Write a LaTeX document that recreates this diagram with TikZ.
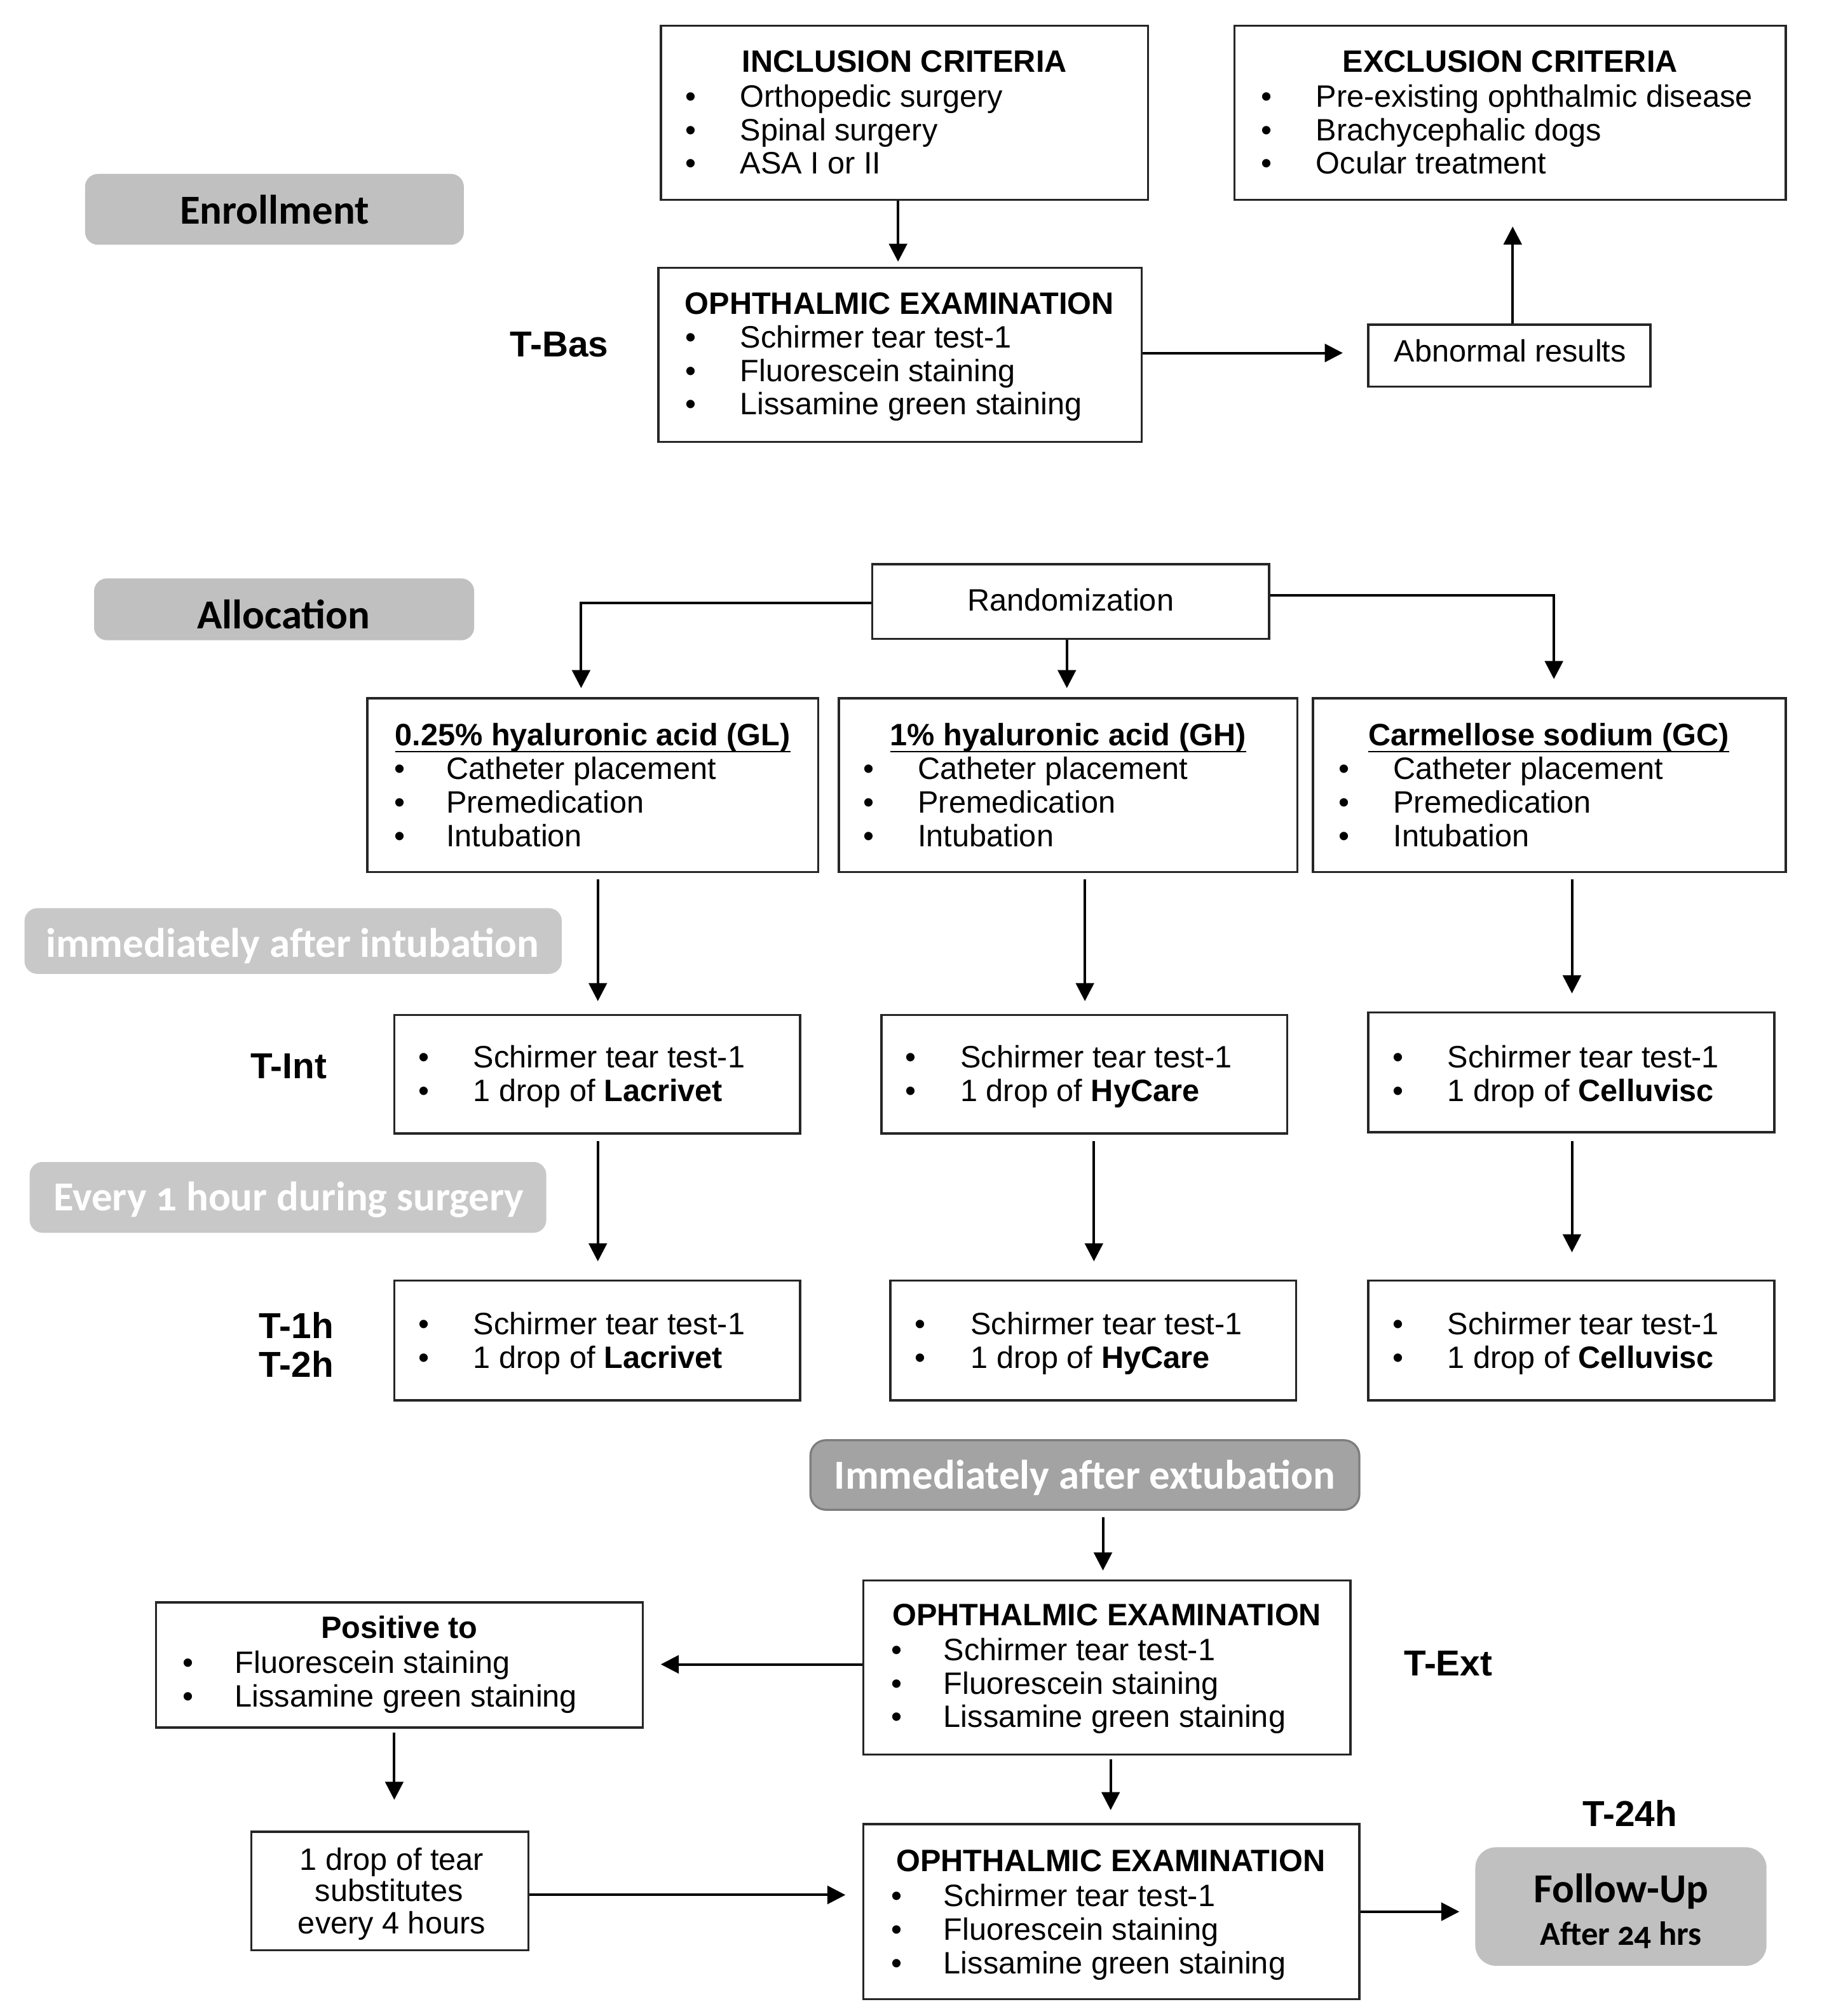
\documentclass[tikz,border=0pt]{standalone}
\usepackage{fontspec}
\setmainfont{Liberation Sans}
\newfontfamily\calib[Numbers=OldStyle]{Carlito}
\usetikzlibrary{arrows.meta,fit}
\definecolor{gEnr}{RGB}{192,192,192}
\definecolor{gLight}{RGB}{200,200,200}
\definecolor{gDark}{RGB}{163,163,163}
\definecolor{gDarkB}{RGB}{125,125,125}
\newcommand{\bitem}[5]{%
  \node[txt,anchor=base] (#1b) at (#2,#4) {\textbullet};
  \node[txt,anchor=base west] (#1) at (#3,#4) {#5};}
\newcommand{\ulbar}[1]{\setbox0\hbox{#1}\rlap{\rule[-2.6pt]{\wd0}{0.7pt}}\box0}
\begin{document}
\begin{tikzpicture}[x=0.5pt,y=-0.5pt,
  box/.style={draw=black!85, line width=0.85pt, inner sep=0pt},
  gboxA/.style={fill=gEnr, draw=none, rounded corners=5pt, inner sep=0pt},
  gboxL/.style={fill=gLight, draw=none, rounded corners=5pt, inner sep=0pt},
  gboxD/.style={fill=gDark, draw=gDarkB, line width=0.8pt, rounded corners=6pt, inner sep=0pt},
  txt/.style={inner sep=0pt, font=\fontsize{12}{14}\selectfont},
  ttl/.style={inner sep=0pt, font=\fontsize{12}{14}\selectfont\bfseries},
  lbl/.style={inner sep=0pt, font=\fontsize{14}{16}\selectfont\bfseries},
  gtxt/.style={inner sep=0pt, font=\calib\bfseries\fontsize{16}{18}\selectfont},
  arr/.style={line width=1pt, -{Triangle[length=7pt,width=7pt]}}]
\fill[white] (0,0) rectangle (1414,1565);
\useasboundingbox (0,0) rectangle (1414,1565);

% ---- gray phase boxes
\node[gboxA, fit={(66,135) (360,190)}] (enr) {};
\node[gtxt, anchor=base] (enrT) at (213,174) {Enrollment};
\node[gboxA, fit={(73,449) (368,497)}] (alc) {};
\node[gtxt, anchor=base] (alcT) at (220,488) {Allocation};
\node[gboxL, fit={(19,705) (436,756)}] (intg) {};
\node[gtxt, anchor=base, text=white] (intgT) at (227,743) {immediately after intubation};
\node[gboxL, fit={(23,902) (424,957)}] (hrg) {};
\node[gtxt, anchor=base, text=white] (hrgT) at (224,940) {Every 1 hour during surgery};
\node[gboxD, fit={(629,1118) (1055,1172)}] (extg) {};
\node[gtxt, anchor=base, text=white] (extgT) at (842,1156) {Immediately after extubation};
\node[gboxA, rounded corners=8pt, fit={(1145,1434) (1371,1526)}] (fol) {};
\node[gtxt, anchor=base] (folT) at (1258,1477) {Follow-Up};
\node[gtxt, anchor=base, font=\calib\bfseries\fontsize{13}{15}\selectfont] (folT2) at (1258,1510) {After 24 hrs};

% ---- boxes
\node[box, fit={(513,20) (891,155)}] (incl) {};
\node[box, fit={(958,20) (1386,155)}] (excl) {};
\node[box, fit={(511,208) (886,343)}] (oph1) {};
\node[box, fit={(1062,252) (1281,300)}] (abn) {};
\node[box, fit={(677,438) (985,496)}] (rand) {};
\node[box, fit={(285,542) (635,677)}] (gl) {};
\node[box, fit={(651,542) (1007,677)}] (gh) {};
\node[box, fit={(1019,542) (1386,677)}] (gc) {};
\node[box, fit={(306,788) (621,880)}] (intl) {};
\node[box, fit={(684,788) (999,880)}] (inth) {};
\node[box, fit={(1062,786) (1377,879)}] (intc) {};
\node[box, fit={(306,994) (621,1087)}] (hl) {};
\node[box, fit={(691,994) (1006,1087)}] (hh) {};
\node[box, fit={(1062,994) (1377,1087)}] (hc) {};
\node[box, fit={(670,1227) (1048,1362)}] (ext) {};
\node[box, fit={(121,1244) (499,1341)}] (pos) {};
\node[box, fit={(195,1422) (410,1514)}] (tear) {};
\node[box, fit={(670,1416) (1055,1552)}] (oph2) {};

% ---- texts
\node[ttl, anchor=base] (inclT) at (702,56) {INCLUSION CRITERIA};
\bitem{i1}{536}{574}{83}{Orthopedic surgery}
\bitem{i2}{536}{574}{109}{Spinal surgery}
\bitem{i3}{536}{574}{135}{ASA I or II}

\node[ttl, anchor=base] (exclT) at (1172,56) {EXCLUSION CRITERIA};
\bitem{e1}{983}{1021}{83}{Pre-existing ophthalmic disease}
\bitem{e2}{983}{1021}{109}{Brachycephalic dogs}
\bitem{e3}{983}{1021}{135}{Ocular treatment}

\node[ttl, anchor=base] (oph1T) at (698,244) {OPHTHALMIC EXAMINATION};
\bitem{o1}{536}{574}{270}{Schirmer tear test-1}
\bitem{o2}{536}{574}{296}{Fluorescein staining}
\bitem{o3}{536}{574}{322}{Lissamine green staining}

\node[txt, anchor=base] (abnT) at (1172,281) {Abnormal results};
\node[txt, anchor=base] (randT) at (831,474) {Randomization};

\node[ttl, anchor=base] (glT) at (460,579) {\ulbar{0.25\% hyaluronic acid (GL)}};
\bitem{gl1}{310}{346}{605}{Catheter placement}
\bitem{gl2}{310}{346}{631}{Premedication}
\bitem{gl3}{310}{346}{657}{Intubation}
\node[ttl, anchor=base] (ghT) at (829,579) {\ulbar{1\% hyaluronic acid (GH)}};
\bitem{gh1}{674}{712}{605}{Catheter placement}
\bitem{gh2}{674}{712}{631}{Premedication}
\bitem{gh3}{674}{712}{657}{Intubation}
\node[ttl, anchor=base] (gcT) at (1202,579) {\ulbar{Carmellose sodium (GC)}};
\bitem{gc1}{1043}{1081}{605}{Catheter placement}
\bitem{gc2}{1043}{1081}{631}{Premedication}
\bitem{gc3}{1043}{1081}{657}{Intubation}

\bitem{il1}{329}{367}{829}{Schirmer tear test-1}
\bitem{il2}{329}{367}{855}{1 drop of \textbf{Lacrivet}}
\bitem{ih1}{707}{745}{829}{Schirmer tear test-1}
\bitem{ih2}{707}{745}{855}{1 drop of \textbf{HyCare}}
\bitem{ic1}{1085}{1123}{829}{Schirmer tear test-1}
\bitem{ic2}{1085}{1123}{855}{1 drop of \textbf{Celluvisc}}

\bitem{hl1}{329}{367}{1036}{Schirmer tear test-1}
\bitem{hl2}{329}{367}{1062}{1 drop of \textbf{Lacrivet}}
\bitem{hh1}{714}{753}{1036}{Schirmer tear test-1}
\bitem{hh2}{714}{753}{1062}{1 drop of \textbf{HyCare}}
\bitem{hc1}{1085}{1123}{1036}{Schirmer tear test-1}
\bitem{hc2}{1085}{1123}{1062}{1 drop of \textbf{Celluvisc}}

\node[ttl, anchor=base] (extT) at (859,1262) {OPHTHALMIC EXAMINATION};
\bitem{x1}{696}{732}{1289}{Schirmer tear test-1}
\bitem{x2}{696}{732}{1315}{Fluorescein staining}
\bitem{x3}{696}{732}{1341}{Lissamine green staining}

\node[ttl, anchor=base] (posT) at (310,1272) {Positive to};
\bitem{p1}{146}{182}{1299}{Fluorescein staining}
\bitem{p2}{146}{182}{1325}{Lissamine green staining}

\node[txt, anchor=base] (tr1) at (304,1452) {1 drop of tear};
\node[txt, anchor=base] (tr2) at (302,1476) {substitutes};
\node[txt, anchor=base] (tr3) at (304,1501) {every 4 hours};

\node[ttl, anchor=base] (oph2T) at (862,1453) {OPHTHALMIC EXAMINATION};
\bitem{y1}{696}{732}{1480}{Schirmer tear test-1}
\bitem{y2}{696}{732}{1506}{Fluorescein staining}
\bitem{y3}{696}{732}{1532}{Lissamine green staining}

% ---- time labels
\node[lbl, anchor=base] (tbas) at (434,277) {T-Bas};
\node[lbl, anchor=base] (tint) at (224,837) {T-Int};
\node[lbl, anchor=base] (t1h) at (230,1039) {T-1h};
\node[lbl, anchor=base] (t2h) at (230,1069) {T-2h};
\node[lbl, anchor=base] (text) at (1124,1301) {T-Ext};
\node[lbl, anchor=base] (t24) at (1265,1418) {T-24h};

% ---- connectors
\coordinate (c1) at (697,0);
\draw[arr, shorten >=2pt] (incl.south -| c1) -- (oph1.north -| c1);
\coordinate (c2) at (0,274);
\draw[arr, shorten >=9.5pt] (oph1.east |- c2) -- (abn.west |- c2);
\coordinate (c3) at (1174,0);
\draw[arr, shorten >=10pt] (abn.north -| c3) -- (excl.south -| c3);
\coordinate (c4) at (451,468);
\draw[arr, shorten >=3.5pt] (rand.west |- c4) -| (gl.north -| c4);
\coordinate (c5) at (828,0);
\draw[arr, shorten >=3.5pt] (rand.south -| c5) -- (gh.north -| c5);
\coordinate (c6) at (1206,462);
\draw[arr, shorten >=7pt] (rand.east |- c6) -| (gc.north -| c6);
\coordinate (c7) at (464,0);
\draw[arr, shorten <=2.5pt, shorten >=5pt] (gl.south -| c7) -- (intl.north -| c7);
\coordinate (c8) at (842,0);
\draw[arr, shorten <=2.5pt, shorten >=5pt] (gh.south -| c8) -- (inth.north -| c8);
\coordinate (c9) at (1220,0);
\draw[arr, shorten <=2.5pt, shorten >=7pt] (gc.south -| c9) -- (intc.north -| c9);
\draw[arr, shorten <=2.5pt, shorten >=7pt] (intl.south -| c7) -- (hl.north -| c7);
\coordinate (c10) at (849,0);
\draw[arr, shorten <=2.5pt, shorten >=7pt] (inth.south -| c10) -- (hh.north -| c10);
\draw[arr, shorten <=3pt, shorten >=10.5pt] (intc.south -| c9) -- (hc.north -| c9);
\coordinate (c11) at (856,0);
\draw[arr, shorten <=2.5pt, shorten >=3.5pt] (extg.south -| c11) -- (ext.north -| c11);
\coordinate (c12) at (0,1292);
\draw[arr, shorten >=6.5pt] (ext.west |- c12) -- (pos.east |- c12);
\coordinate (c13) at (306,0);
\draw[arr, shorten <=1.5pt, shorten >=12pt] (pos.south -| c13) -- (tear.north -| c13);
\coordinate (c14) at (0,1471);
\draw[arr, shorten >=6.5pt] (tear.east |- c14) -- (oph2.west |- c14);
\coordinate (c15) at (862,0);
\draw[arr, shorten <=1.5pt, shorten >=5pt] (ext.south -| c15) -- (oph2.north -| c15);
\coordinate (c16) at (0,1484);
\draw[arr, shorten >=6pt] (oph2.east |- c16) -- (fol.west |- c16);
\end{tikzpicture}
\end{document}
